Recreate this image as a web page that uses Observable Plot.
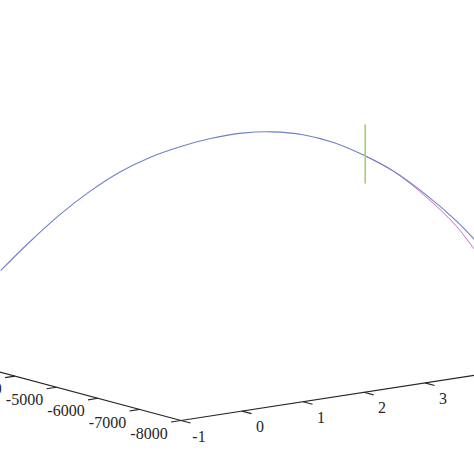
<!DOCTYPE html>
<html>
<head>
<meta charset="utf-8">
<script src="https://cdn.jsdelivr.net/npm/d3@7"></script>
<script src="https://cdn.jsdelivr.net/npm/@observablehq/plot@0.6"></script>
<style>
  html, body { margin: 0; padding: 0; background: #fff; overflow: hidden; }
  svg { overflow: hidden; }
</style>
</head>
<body>
<div id="chart"></div>
<script>
// ---- data (3D: u = right axis, v = left axis, w = hidden vertical axis) ----
const uTicks = [-1, 0, 1, 2, 3];
const vTicks = [-8000, -7000, -6000, -5000, -4000];
const curveV = -8000;
const blueU = [-3.95, -3.5, -3, -2.5, -2, -1.5, -1, -0.5, 0, 0.5, 1, 1.5, 2, 2.5, 3, 3.5, 3.82];
const blueW = [1.78, 2.01, 2.24, 2.43, 2.58, 2.68, 2.74, 2.775, 2.78, 2.745, 2.67, 2.545, 2.37, 2.16, 1.89, 1.58, 1.35];
const magentaU = [2.0, 2.5, 3, 3.5, 3.82];
const magentaW = [2.37, 2.155, 1.87, 1.53, 1.25];
const markerU = 2.02;
const markerW = [2.09, 2.67];

// ---- oblique 3D view ----
const O = {x: 180.5, y: 420};
const proj = (u, v, w) => ({
  x: O.x + (u + 1) * 61 + (v + 8000) * (-0.0415),
  y: O.y - (u + 1) * 9.4 - (v + 8000) * 0.0111 - w * 100
});

const blue = blueU.map((u, i) => proj(u, curveV, blueW[i]));
const magenta = magentaU.map((u, i) => proj(u, curveV, magentaW[i]));
const marker = markerW.map(w => proj(markerU, curveV, w));

const axes = [
  {a: proj(-1, -8000, 0), b: proj(6, -8000, 0)},
  {a: proj(-1, -8000, 0), b: proj(-1, -3000, 0)}
];
const rightTicks = uTicks.map(u => ({a: proj(u, -8000, 0), b: proj(u, -8000 - 230, 0), label: String(u)}));
const leftTicks = vTicks.map(v => ({a: proj(-1, v, 0), b: proj(-1.163, v, 0), label: String(v)}));

const font = "Liberation Serif, Times New Roman, serif";
const ink = "#262626";

const chart = Plot.plot({
  width: 474,
  height: 474,
  margin: 0,
  x: {domain: [0, 474], range: [0, 474], axis: null},
  y: {domain: [0, 474], range: [0, 474], axis: null},
  style: {background: "#fff"},
  marks: [
    Plot.link(axes, {x1: d => d.a.x, y1: d => d.a.y, x2: d => d.b.x, y2: d => d.b.y, stroke: ink, strokeWidth: 1.1}),
    Plot.link(rightTicks, {x1: d => d.a.x, y1: d => d.a.y, x2: d => d.b.x, y2: d => d.b.y, stroke: ink, strokeWidth: 1.1}),
    Plot.link(leftTicks, {x1: d => d.a.x, y1: d => d.a.y, x2: d => d.b.x, y2: d => d.b.y, stroke: ink, strokeWidth: 1.1}),
    Plot.text(rightTicks, {x: d => d.a.x, y: d => d.a.y, text: "label", dx: 18, dy: 16, fontFamily: font, fontSize: 16, fill: ink}),
    Plot.text(leftTicks, {x: d => d.a.x, y: d => d.a.y, text: "label", dx: -32, dy: 13, fontFamily: font, fontSize: 16, fill: ink}),
    Plot.line(magenta, {x: "x", y: "y", stroke: "#c868c8", strokeWidth: 1, curve: "catmull-rom"}),
    Plot.line(blue, {x: "x", y: "y", stroke: "#6e80c6", strokeWidth: 1.1, curve: "catmull-rom"}),
    Plot.line(marker, {x: "x", y: "y", stroke: "#a4cf6a", strokeWidth: 1.6})
  ]
});
document.getElementById("chart").appendChild(chart);
</script>
</body>
</html>
